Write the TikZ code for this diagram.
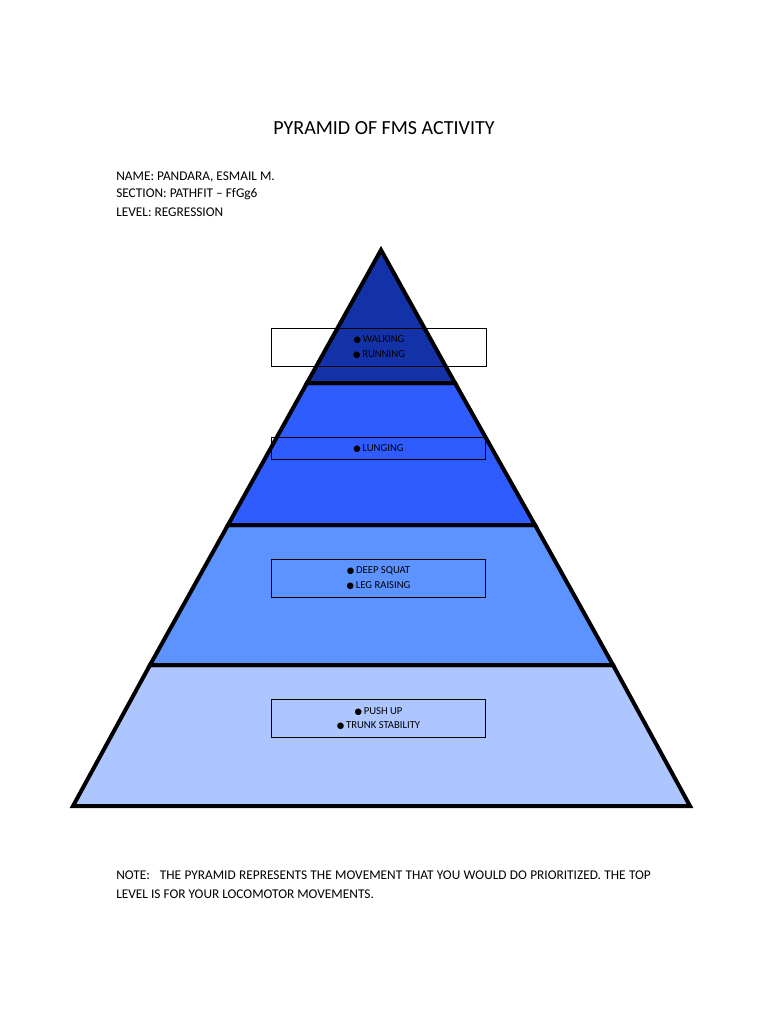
\documentclass[tikz,border=0pt]{standalone}
\usepackage{fontspec}
\setmainfont{Carlito}
\newfontfamily\symf{DejaVu Sans}
\definecolor{c1}{HTML}{1432A8}
\definecolor{c2}{HTML}{2F5CFF}
\definecolor{c3}{HTML}{5C93FF}
\definecolor{c4}{HTML}{ADC6FF}
\tikzset{band/.style={draw=black,line width=3pt,line join=miter},
lbl/.style={draw=black,line width=0.6pt,minimum width=161pt,align=center,font=\fontsize{8}{11}\selectfont,inner sep=0pt},
txt/.style={anchor=west,font=\fontsize{10}{12}\selectfont,inner sep=0pt}}
\newcommand{\bul}{{\symf\scalebox{0.8}{●}}\,}
\begin{document}
\begin{tikzpicture}[x=0.75pt,y=-0.75pt]
\useasboundingbox (0,0) rectangle (768,1024);
\fill[white] (0,0) rectangle (768,1024);
\node[font=\fontsize{15}{18}\selectfont] (title) at (384,128) {PYRAMID OF FMS ACTIVITY};
\node[txt] (n1) at (116,177) {NAME: PANDARA, ESMAIL M.};
\node[txt] (n2) at (116,194) {SECTION: PATHFIT – FfGg6};
\node[txt] (n3) at (116,212) {LEVEL: REGRESSION};
\filldraw[band,fill=c4] (150,665) -- (613,665) -- (690,806) -- (73,806) -- cycle;
\filldraw[band,fill=c3] (228,525) -- (535,525) -- (613,665) -- (150,665) -- cycle;
\filldraw[band,fill=c2] (307,383) -- (455,383) -- (535,525) -- (228,525) -- cycle;
\filldraw[band,fill=c1] (381,250) -- (455,383) -- (307,383) -- cycle;
\node[lbl,minimum height=28.5pt] (b1) at (379,347) {\bul WALKING\\\bul RUNNING};
\node[lbl,minimum height=17pt] (b2) at (378.5,448.5) {\bul LUNGING};
\node[lbl,minimum height=28.5pt] (b3) at (378.5,578) {\bul DEEP SQUAT\\\bul LEG RAISING};
\node[lbl,minimum height=29pt] (b4) at (378.5,718.5) {\bul PUSH UP\\\bul TRUNK STABILITY};
\node[anchor=north west,inner sep=0pt,text width=401pt,align=justify,font=\fontsize{10}{14.2}\selectfont] (note) at (116,871)
{NOTE:\ \ \ THE PYRAMID REPRESENTS THE MOVEMENT THAT YOU WOULD DO PRIORITIZED. THE TOP LEVEL IS FOR YOUR LOCOMOTOR MOVEMENTS.};
\end{tikzpicture}
\end{document}
